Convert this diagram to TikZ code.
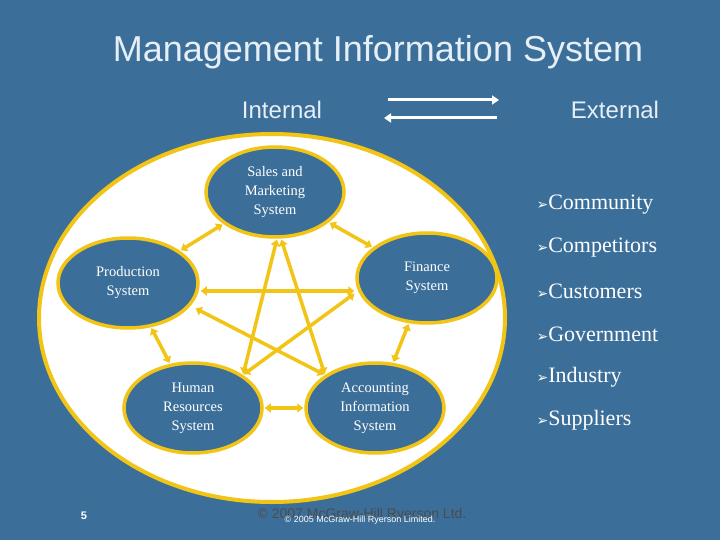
\documentclass[tikz,border=0pt]{standalone}
\usepackage{fontspec}
\setmainfont{Liberation Serif}
\newfontfamily\arialf{Liberation Sans}
\newfontfamily\dejavu{DejaVu Sans}
\usetikzlibrary{arrows.meta,shapes.geometric}
\definecolor{bg}{HTML}{3B6F99}
\definecolor{yel}{HTML}{F2C416}
\definecolor{ttl}{HTML}{E6EEF6}
\tikzset{
  sys/.style={ellipse,draw=yel,line width=3.5pt,fill=bg,text=white,font=\fontsize{14.5}{19}\selectfont,align=center,minimum width=#1,minimum height=90pt,inner sep=0pt},
  link/.style={draw=yel,line width=3.5pt,{Triangle[length=6pt,width=9pt]}-{Triangle[length=6pt,width=9pt]},shorten <=1pt,shorten >=1pt},
  ext/.style={anchor=west,text=white,font=\fontsize{22}{24}\selectfont},
  warr/.style={draw=white,line width=3pt,-{Triangle[length=7pt,width=9pt]}}
}
\begin{document}
\begin{tikzpicture}[x=1pt,y=-1pt]
\fill[bg] (0,0) rectangle (720,540);
\useasboundingbox (0,0) rectangle (720,540);
\node[text=ttl,font=\arialf\fontsize{36}{40}\selectfont] (title) at (378,52) {Management Information System};
\node[text=ttl,font=\arialf\fontsize{24}{28}\selectfont] (int) at (282,110) {Internal};
\node[text=ttl,font=\arialf\fontsize{24}{28}\selectfont] (ext) at (615,110) {External};
\coordinate (a1) at (388,100); \coordinate (a2) at (499,100);
\coordinate (b1) at (497,118); \coordinate (b2) at (384,118);
\draw[warr] (a1) -- (a2);
\draw[warr] (b1) -- (b2);
\fill[white,draw=yel,line width=4pt] (272,318) ellipse [x radius=233, y radius=184];
\node[sys=138pt] (s) at (275,192) {Sales and\\Marketing\\System};
\node[sys=140pt] (p) at (128,283) {Production\\System};
\node[sys=140pt] (f) at (427,278) {Finance\\System};
\node[sys=138pt] (h) at (193,408) {Human\\Resources\\System};
\node[sys=138pt] (a) at (375,408) {Accounting\\Information\\System};
\draw[link] (s) -- (p);
\draw[link] (s) -- (f);
\draw[link] (p) -- (h);
\draw[link] (f) -- (a);
\draw[link] (h) -- (a);
\draw[link] (s.south) ++(2,0) coordinate (s1) (s1) -- (h.north east);
\draw[link] (s.south) ++(6,0) coordinate (s2) (s2) -- (a.north west);
\draw[link] (p.east) ++(0,8) coordinate (p1) (p1) -- (f.west |- p1);
\draw[link] (p.east) ++(-5,25) coordinate (p2) (p2) -- (a.north west);
\draw[link] (f.west) ++(0,15) coordinate (f1) (f1) -- (h.north east);
\foreach \t/\y/\n in {Community/205/e1,Competitors/248/e2,Customers/291/e3,Government/334/e4,Industry/377/e5,Suppliers/420/e6}
  \node[ext] (\n) at (533,\y) {{\dejavu\fontsize{14}{14}\selectfont ➢}\t};
\node[text=white,font=\arialf\bfseries\fontsize{11}{12}\selectfont] (num) at (84,516) {5};
\node[text=black!70,font=\arialf\fontsize{14}{16}\selectfont] (c1) at (362,515) {© 2007 McGraw-Hill Ryerson Ltd.};
\node[text=white,font=\arialf\fontsize{9}{10}\selectfont] (c2) at (360,520) {© 2005 McGraw-Hill Ryerson Limited.};
\end{tikzpicture}
\end{document}
